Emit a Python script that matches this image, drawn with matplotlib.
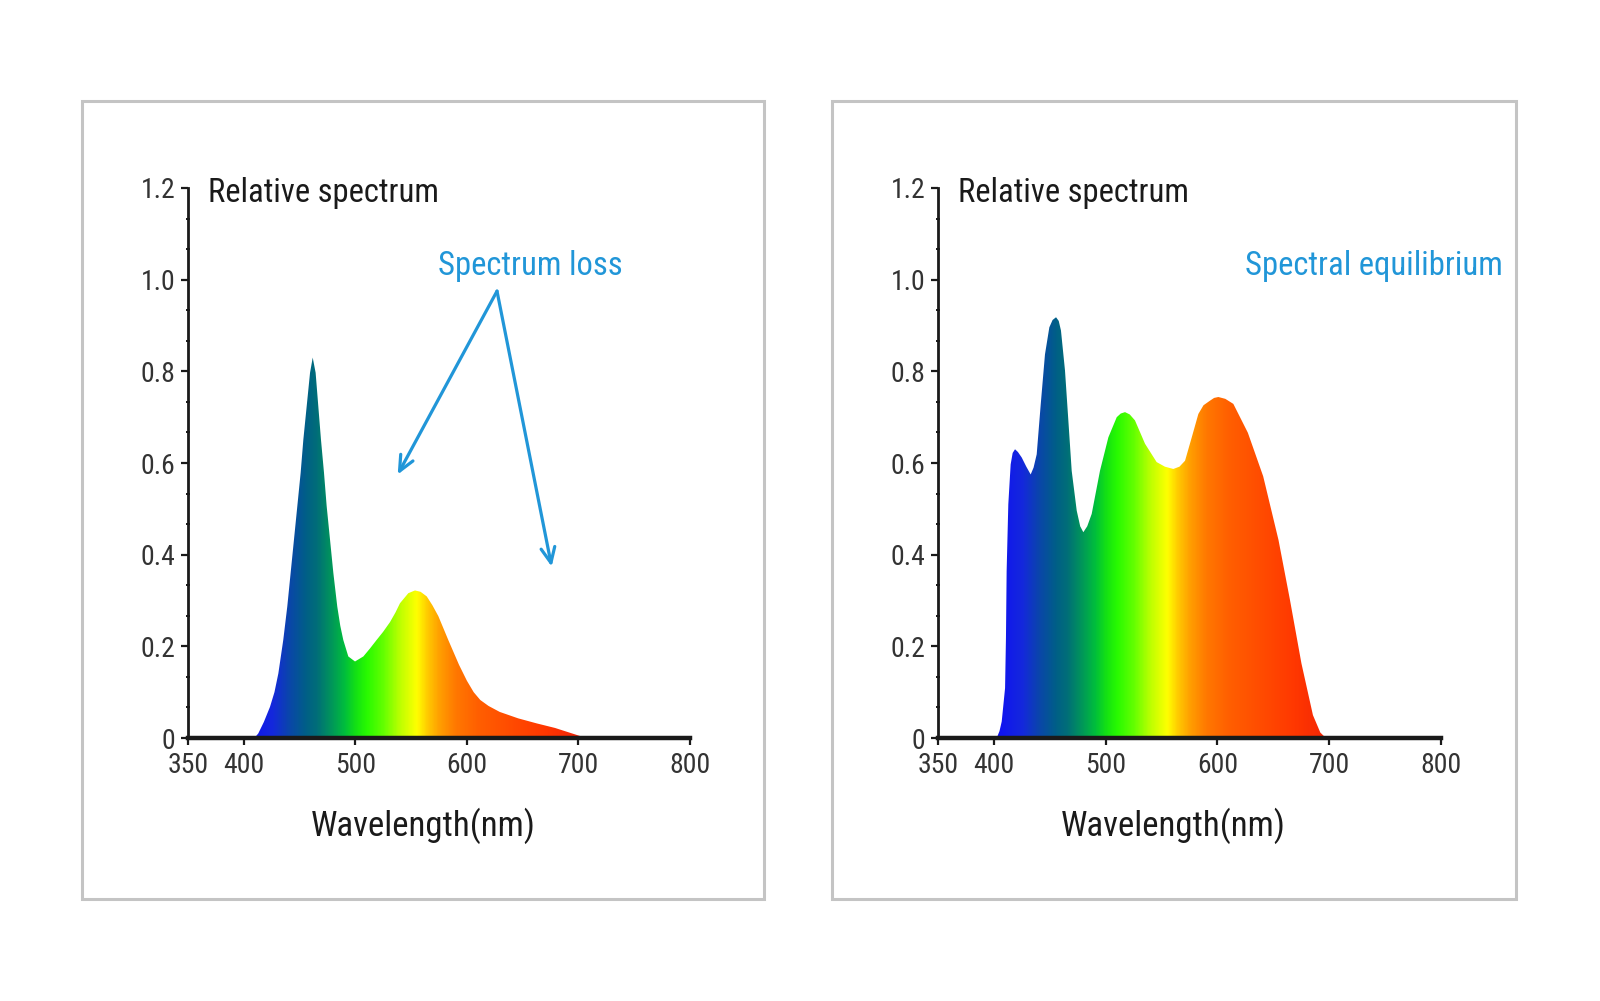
import numpy as np
import matplotlib
matplotlib.use('Agg')
import matplotlib.pyplot as plt
from matplotlib import font_manager as fm
from matplotlib.colors import LinearSegmentedColormap
from matplotlib.patches import Rectangle, Polygon
from matplotlib.ticker import MultipleLocator, AutoMinorLocator, FixedLocator

# ---- data ----
left_nm = [409.5, 413, 418, 423.5, 427.5, 431, 435.4, 439, 442, 445, 448, 451, 453.4, 456.4,
           459.4, 461.8, 464.4, 466.8, 469.2, 471.9, 474.3, 477.3, 480.3, 483.8, 486.5, 489.2,
           493.7, 499.7, 507.2, 513, 519.1, 525, 531.1, 536, 540, 547.5, 553.5, 558.5, 564, 569,
           574.4, 583.3, 592.9, 600, 606.1, 612, 619.4, 629.4, 645.9, 662.5, 679, 695.6, 707]
left_val = [0, 0.01, 0.035, 0.068, 0.10, 0.141, 0.214, 0.287, 0.36, 0.433, 0.506, 0.579,
            0.651, 0.724, 0.797, 0.830, 0.797, 0.724, 0.651, 0.579, 0.506, 0.433, 0.36, 0.287,
            0.245, 0.214, 0.178, 0.167, 0.178, 0.195, 0.214, 0.232, 0.253, 0.274, 0.294, 0.316,
            0.322, 0.319, 0.309, 0.29, 0.266, 0.214, 0.16, 0.125, 0.10, 0.083, 0.07, 0.057,
            0.043, 0.032, 0.022, 0.009, 0]

right_nm = [402.5, 405, 407, 410, 410.8, 411.4, 412.9, 415, 416.8, 418.9, 421.5, 424.9, 429,
            432.9, 435.5, 438.3, 441.9, 445.7, 449.6, 452.5, 455.6, 458, 460, 463.6, 466.6,
            469.6, 474.1, 477.2, 480, 483.5, 487.5, 494.9, 502.4, 509.9, 513.5, 517.3, 521.5,
            526.2, 535.2, 545.6, 553, 560.5, 566, 571, 577, 582.9, 587.5, 593.3, 597, 600.8,
            607, 614.2, 627.2, 640.9, 654.6, 664.8, 675.1, 685.4, 692, 697]
right_val = [0, 0.015, 0.036, 0.109, 0.219, 0.364, 0.51, 0.597, 0.622, 0.630, 0.624, 0.612,
             0.592, 0.575, 0.590, 0.619, 0.728, 0.837, 0.896, 0.912, 0.918, 0.910, 0.889, 0.802,
             0.693, 0.583, 0.496, 0.462, 0.449, 0.462, 0.489, 0.583, 0.656, 0.70, 0.708, 0.711,
             0.706, 0.693, 0.642, 0.602, 0.592, 0.587, 0.592, 0.605, 0.656, 0.707, 0.726, 0.736,
             0.742, 0.744, 0.740, 0.729, 0.666, 0.571, 0.432, 0.302, 0.163, 0.050, 0.012, 0]

xticks = [350, 400, 500, 600, 700, 800]
yticks = [0, 0.2, 0.4, 0.6, 0.8, 1.0, 1.2]
ytick_labels = ['0', '0.2', '0.4', '0.6', '0.8', '1.0', '1.2']

# spectrum colour stops (wavelength -> colour)
stop_nm = [400, 425, 440, 455, 465, 478, 490, 500, 510, 525, 540, 555, 565, 575, 590, 610, 640, 670, 710]
stop_rgb = [(15, 15, 245), (20, 40, 220), (10, 70, 170), (0, 95, 135), (0, 110, 120), (0, 150, 90),
            (0, 190, 60), (20, 225, 20), (40, 250, 0), (100, 255, 0), (190, 255, 0), (255, 255, 0),
            (255, 200, 0), (255, 160, 0), (255, 120, 0), (255, 95, 0), (255, 75, 0), (255, 55, 0),
            (240, 30, 10)]

# ---- fonts ----
names = {f.name for f in fm.fontManager.ttflist}
main_font = 'Roboto Condensed' if 'Roboto Condensed' in names else 'Liberation Sans'
plt.rcParams['font.family'] = [main_font, 'DejaVu Sans']

blue = '#2196d8'
dark = '#1a1a1a'
tick_color = '#333333'

lo, hi = stop_nm[0], stop_nm[-1]
cmap = LinearSegmentedColormap.from_list(
    'spec', [((w - lo) / (hi - lo), tuple(c / 255 for c in rgb)) for w, rgb in zip(stop_nm, stop_rgb)])

fig = plt.figure(figsize=(16, 10.01), dpi=100)
fig.patch.set_facecolor('white')

# panel frames
for x0, w in [(0.05125, 0.42625), (0.52, 0.4275)]:
    fig.patches.append(Rectangle((x0, 0.1019), w, 0.797, transform=fig.transFigure,
                                 fill=False, edgecolor='#c4c4c4', linewidth=2.2, zorder=0))


def draw_panel(ax, nm, val):
    grad = np.linspace(lo, hi, 600).reshape(1, -1)
    im = ax.imshow(grad, cmap=cmap, extent=[lo, hi, 0, 1.2], aspect='auto',
                   origin='lower', interpolation='bilinear', zorder=1)
    poly = Polygon(np.column_stack([nm, val]), closed=True, facecolor='none',
                   edgecolor='none', transform=ax.transData)
    ax.add_patch(poly)
    im.set_clip_path(poly)
    ax.set_xlim(350, 800)
    ax.set_ylim(0, 1.2)

    for s in ['top', 'right']:
        ax.spines[s].set_visible(False)
    ax.spines['bottom'].set_linewidth(3.2)
    ax.spines['left'].set_linewidth(2)
    ax.spines['bottom'].set_color(dark)
    ax.spines['left'].set_color(dark)
    ax.spines['bottom'].set_zorder(3)

    ax.xaxis.set_major_locator(FixedLocator(xticks))
    ax.xaxis.set_minor_locator(MultipleLocator(25))
    ax.set_xticklabels([str(t) for t in xticks])
    ax.set_yticks(yticks)
    ax.set_yticklabels(ytick_labels)
    ax.yaxis.set_minor_locator(AutoMinorLocator(3))
    ax.tick_params(axis='both', which='major', labelsize=20, colors=dark,
                   labelcolor=tick_color, width=1.6, length=5, direction='out')
    ax.tick_params(axis='x', which='major', pad=5)
    ax.tick_params(axis='y', which='major', pad=4)
    ax.tick_params(axis='both', which='minor', width=1.4, length=3, color=dark,
                   direction='inout')

    ax.set_xlabel('Wavelength(nm)', fontsize=25, color=dark, va='center')
    ax.xaxis.set_label_coords(0.468, -0.16)
    ax.text(0.04, 0.99, 'Relative spectrum', transform=ax.transAxes, fontsize=23.5,
            color=dark, ha='left', va='center')
    ax.set_facecolor('none')


ax1 = fig.add_axes([0.1175, 0.2627, 0.31375, 0.5495])
draw_panel(ax1, left_nm, left_val)
ax1.text(0.681, 0.858, 'Spectrum loss', transform=ax1.transAxes, fontsize=23.5,
         color=blue, ha='center', va='center')
for end in [(538, 0.575), (676, 0.374)]:
    ax1.annotate('', xy=end, xytext=(627, 0.975), xycoords='data',
                 arrowprops=dict(arrowstyle='->, head_length=1.1, head_width=0.5',
                                 color=blue, lw=2.3, shrinkA=0, shrinkB=0))

ax2 = fig.add_axes([0.58625, 0.2627, 0.3144, 0.5495])
draw_panel(ax2, right_nm, right_val)
ax2.text(0.867, 0.858, 'Spectral equilibrium', transform=ax2.transAxes, fontsize=23.5,
         color=blue, ha='center', va='center')

fig.savefig('out.png', dpi=100, facecolor='white')
